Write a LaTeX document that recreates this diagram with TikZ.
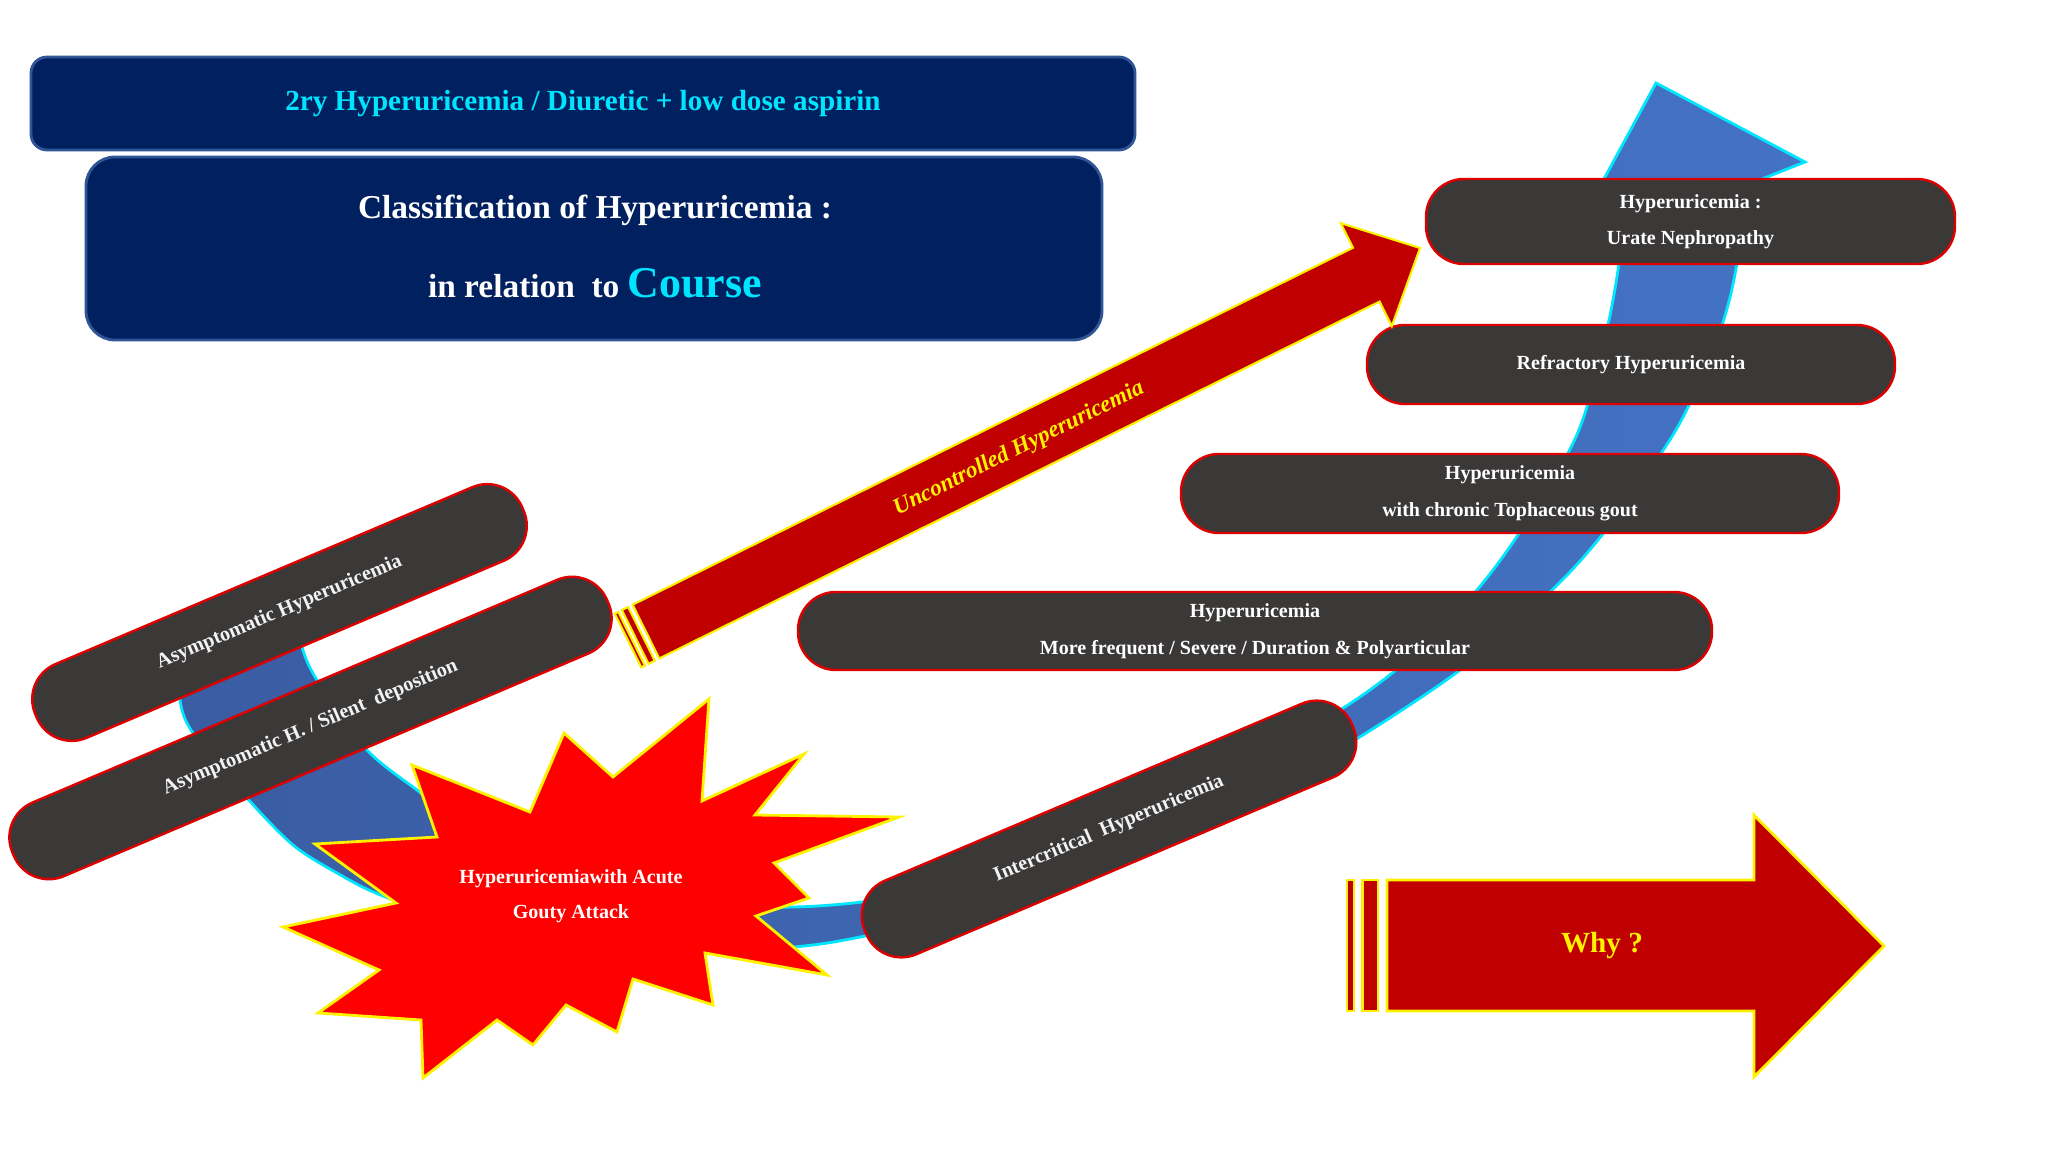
\documentclass[tikz,border=0pt]{standalone}
\usepackage{fontspec}
\setmainfont{Liberation Serif}
\usepackage{tikz}
\usepackage{xcolor}

\definecolor{navy}{RGB}{0,32,96}
\definecolor{navyedge}{RGB}{47,85,151}
\definecolor{aqua}{RGB}{0,229,255}
\definecolor{pillgray}{RGB}{59,56,56}
\definecolor{pillred}{RGB}{220,0,0}
\definecolor{pilltext}{RGB}{242,242,242}
\definecolor{darkred}{RGB}{192,0,0}
\definecolor{bandblue}{RGB}{68,114,196}
\definecolor{banddark}{RGB}{58,92,162}
\definecolor{bandedge}{RGB}{0,230,255}

\begin{document}
\begin{tikzpicture}[
    pill/.style={draw=pillred, line width=0.7pt, fill=pillgray, rounded corners=0.38cm, inner sep=0pt, align=center, text=white, font=\fontsize{5.7}{10.4}\selectfont\bfseries},
    tilted/.style={pill, rotate=23, minimum height=0.8cm, text=pilltext, font=\fontsize{5.8}{7}\selectfont\bfseries},
    navybox/.style={fill=navy, draw=navyedge, line width=0.8pt},
    redarrow/.style={fill=darkred, draw=yellow, line width=0.8pt},
    uricband/.style={left color=banddark, right color=bandblue, draw=bandedge, line width=0.8pt}
]
    \fill[white] (0,0) rectangle (20.48,-11.52);
    \useasboundingbox (0,0) rectangle (20.48,-11.52);

    \shadedraw[uricband]
        plot[smooth] coordinates {(1.80,-6.55) (1.80,-7.00) (1.93,-7.33) (2.47,-7.98) (2.93,-8.45) (3.37,-8.73) (3.83,-8.96) (5.00,-9.38) (6.50,-9.55) (7.94,-9.47) (8.70,-9.35) (10.00,-9.05) (11.50,-8.45) (12.60,-7.92) (13.50,-7.43) (14.60,-6.70) (15.52,-5.90) (16.02,-5.35) (16.60,-4.55) (16.88,-4.07) (17.22,-3.25) (17.37,-2.63) (17.45,-1.86)}
        -- (17.67,-1.77) -- (18.05,-1.62) -- (16.56,-0.83) -- (15.85,-2.14)
        -- plot[smooth] coordinates {(16.20,-2.28) (16.19,-2.63) (16.08,-3.25) (15.87,-4.07) (15.67,-4.55) (15.18,-5.35) (14.77,-5.90) (14.20,-6.50) (13.40,-7.10) (12.00,-7.85) (10.50,-8.50) (9.40,-8.85) (8.70,-9.01) (7.76,-9.07) (6.50,-8.95) (5.40,-8.60) (4.37,-8.05) (4.17,-7.90) (3.67,-7.50) (3.17,-6.80) (3.02,-6.47) (2.98,-6.15)}
        -- cycle;

    \filldraw[fill=red, draw=yellow, line width=0.8pt] (7.09,-6.99) -- (6.13,-7.77) -- (5.64,-7.33) -- (5.30,-8.12) -- (4.12,-7.65) -- (4.37,-8.37) -- (3.15,-8.44) -- (3.96,-9.03) -- (2.83,-9.27) -- (3.79,-9.70) -- (3.18,-10.13) -- (4.21,-10.20) -- (4.23,-10.78) -- (4.97,-10.20) -- (5.33,-10.45) -- (5.66,-10.05) -- (6.17,-10.32) -- (6.33,-9.79) -- (7.13,-10.05) -- (7.05,-9.53) -- (8.27,-9.75) -- (7.56,-9.16) -- (8.09,-8.98) -- (7.74,-8.63) -- (8.99,-8.17) -- (7.55,-8.15) -- (8.04,-7.54) -- (7.02,-8.01) -- cycle;
    \node (gout) at (5.71,-8.96) [text=white, align=center, font=\fontsize{5.7}{10}\selectfont\bfseries] {Hyperuricemiawith Acute\\Gouty Attack};

    \node (asym) at (2.795,-6.125) [tilted, minimum width=5.29cm] {Asymptomatic Hyperuricemia};
    \node (silent) at (3.105,-7.28) [tilted, minimum width=6.46cm] {Asymptomatic H. / Silent\ \ deposition};
    \node (intercritical) at (11.09,-8.29) [tilted, minimum width=5.29cm] {Intercritical\ \ Hyperuricemia};

    \node (nephro) at (16.905,-2.215) [pill, minimum width=5.29cm, minimum height=0.85cm] {Hyperuricemia :\\Urate Nephropathy};
    \node (refractory) at (16.31,-3.645) [pill, minimum width=5.28cm, minimum height=0.79cm] {Refractory Hyperuricemia};
    \node (tophi) at (15.10,-4.935) [pill, minimum width=6.58cm, minimum height=0.79cm] {Hyperuricemia\\with chronic Tophaceous gout};
    \node (frequent) at (12.55,-6.31) [pill, minimum width=9.14cm, minimum height=0.78cm] {Hyperuricemia\\More frequent / Severe / Duration \& Polyarticular};

    \begin{scope}[shift={(6.28,-6.405)}, rotate=26.36]
        \filldraw[redarrow, line width=0.6pt] (0,-0.3) -- (0.04,-0.3) -- (0.04,0.3) -- (0,0.3) -- cycle;
        \filldraw[redarrow, line width=0.6pt] (0.08,-0.3) -- (0.15,-0.3) -- (0.15,0.3) -- (0.08,0.3) -- cycle;
        \filldraw[redarrow, line width=0.6pt] (0.2,-0.3) -- (8.24,-0.3) -- (8.24,-0.575) -- (8.84,0) -- (8.24,0.575) -- (8.24,0.3) -- (0.2,0.3) -- cycle;
    \end{scope}
    \node (uncontrolled) at (10.19,-4.49) [rotate=26.36, text=yellow, font=\fontsize{6.6}{8}\selectfont\bfseries\itshape] {Uncontrolled Hyperuricemia};

    \filldraw[redarrow] (13.47,-8.80) -- (13.54,-8.80) -- (13.54,-10.11) -- (13.47,-10.11) -- cycle;
    \filldraw[redarrow] (13.625,-8.80) -- (13.78,-8.80) -- (13.78,-10.11) -- (13.625,-10.11) -- cycle;
    \filldraw[redarrow] (13.87,-8.80) -- (17.54,-8.80) -- (17.54,-8.15) -- (18.84,-9.46) -- (17.54,-10.77) -- (17.54,-10.11) -- (13.87,-10.11) -- cycle;
    \node (why) at (16.02,-9.46) [text=yellow, font=\fontsize{8.3}{10}\selectfont\bfseries] {Why ?};

    \node (aspirin) at (5.83,-1.035) [navybox, minimum width=11.04cm, minimum height=0.93cm, rounded corners=0.16cm, text=aqua, font=\fontsize{8.3}{10}\selectfont\bfseries] {2ry Hyperuricemia / Diuretic + low dose aspirin};
    \node (coursebox) at (5.94,-2.485) [navybox, minimum width=10.16cm, minimum height=1.83cm, rounded corners=0.29cm] {};
    \node (title) at (5.95,-2.19) [anchor=base, text=white, font=\fontsize{9.5}{11}\selectfont\bfseries] {Classification of Hyperuricemia :};
    \node (subtitle) at (5.95,-2.98) [anchor=base, text=white, font=\fontsize{9.5}{11}\selectfont\bfseries] {in relation\ \ to {\color{aqua}\fontsize{12.5}{14}\selectfont Course}};
\end{tikzpicture}
\end{document}
